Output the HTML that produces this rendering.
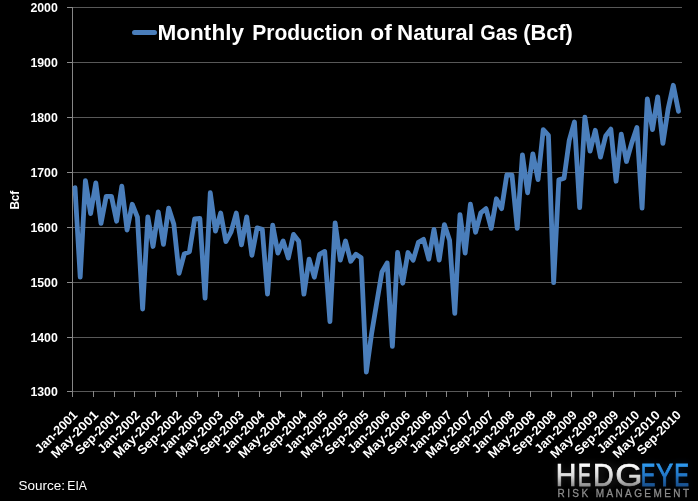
<!DOCTYPE html>
<html><head><meta charset="utf-8"><title>Monthly Production of Natural Gas (Bcf)</title>
<style>
html,body{margin:0;padding:0;background:#000;}
svg{display:block;}
text{font-family:"Liberation Sans",sans-serif;}
.b{font-weight:bold;}
</style></head><body>
<svg width="698" height="501" viewBox="0 0 698 501">
<defs>
<linearGradient id="gw" gradientUnits="userSpaceOnUse" x1="0" y1="-22" x2="0" y2="0"><stop offset="0" stop-color="#ffffff"/><stop offset="0.55" stop-color="#d8d8d8"/><stop offset="1" stop-color="#8a8a8a"/></linearGradient>
<linearGradient id="gb" gradientUnits="userSpaceOnUse" x1="0" y1="-22" x2="0" y2="0"><stop offset="0" stop-color="#2f9af0"/><stop offset="0.5" stop-color="#2277c8"/><stop offset="1" stop-color="#184f8c"/></linearGradient>
<filter id="glow" x="-20%" y="-50%" width="140%" height="200%"><feGaussianBlur stdDeviation="3.5"/></filter>
</defs>
<rect width="698" height="501" fill="#000"/>

<line x1="72" y1="7.5" x2="682" y2="7.5" stroke="#585858" stroke-width="1"/>
<line x1="67" y1="7.5" x2="73" y2="7.5" stroke="#8c8c8c" stroke-width="1"/>
<text class="b" x="57.8" y="11.8" font-size="12.2" text-anchor="end" fill="#fff" textLength="27.4" lengthAdjust="spacingAndGlyphs">2000</text>
<line x1="72" y1="62.5" x2="682" y2="62.5" stroke="#585858" stroke-width="1"/>
<line x1="67" y1="62.5" x2="73" y2="62.5" stroke="#8c8c8c" stroke-width="1"/>
<text class="b" x="57.8" y="66.8" font-size="12.2" text-anchor="end" fill="#fff" textLength="27.4" lengthAdjust="spacingAndGlyphs">1900</text>
<line x1="72" y1="117.5" x2="682" y2="117.5" stroke="#585858" stroke-width="1"/>
<line x1="67" y1="117.5" x2="73" y2="117.5" stroke="#8c8c8c" stroke-width="1"/>
<text class="b" x="57.8" y="121.8" font-size="12.2" text-anchor="end" fill="#fff" textLength="27.4" lengthAdjust="spacingAndGlyphs">1800</text>
<line x1="72" y1="172.5" x2="682" y2="172.5" stroke="#585858" stroke-width="1"/>
<line x1="67" y1="172.5" x2="73" y2="172.5" stroke="#8c8c8c" stroke-width="1"/>
<text class="b" x="57.8" y="176.8" font-size="12.2" text-anchor="end" fill="#fff" textLength="27.4" lengthAdjust="spacingAndGlyphs">1700</text>
<line x1="72" y1="227.5" x2="682" y2="227.5" stroke="#585858" stroke-width="1"/>
<line x1="67" y1="227.5" x2="73" y2="227.5" stroke="#8c8c8c" stroke-width="1"/>
<text class="b" x="57.8" y="231.8" font-size="12.2" text-anchor="end" fill="#fff" textLength="27.4" lengthAdjust="spacingAndGlyphs">1600</text>
<line x1="72" y1="282.5" x2="682" y2="282.5" stroke="#585858" stroke-width="1"/>
<line x1="67" y1="282.5" x2="73" y2="282.5" stroke="#8c8c8c" stroke-width="1"/>
<text class="b" x="57.8" y="286.8" font-size="12.2" text-anchor="end" fill="#fff" textLength="27.4" lengthAdjust="spacingAndGlyphs">1500</text>
<line x1="72" y1="337.5" x2="682" y2="337.5" stroke="#585858" stroke-width="1"/>
<line x1="67" y1="337.5" x2="73" y2="337.5" stroke="#8c8c8c" stroke-width="1"/>
<text class="b" x="57.8" y="341.8" font-size="12.2" text-anchor="end" fill="#fff" textLength="27.4" lengthAdjust="spacingAndGlyphs">1400</text>
<line x1="72" y1="391.5" x2="682" y2="391.5" stroke="#585858" stroke-width="1"/>
<line x1="67" y1="391.5" x2="73" y2="391.5" stroke="#8c8c8c" stroke-width="1"/>
<text class="b" x="57.8" y="395.8" font-size="12.2" text-anchor="end" fill="#fff" textLength="27.4" lengthAdjust="spacingAndGlyphs">1300</text>
<line x1="72.5" y1="7" x2="72.5" y2="397" stroke="#868686" stroke-width="1"/>
<line x1="72.5" y1="391" x2="72.5" y2="397" stroke="#868686" stroke-width="1"/>
<text class="b" transform="translate(78.3,415.75) rotate(-45)" font-size="12.6" text-anchor="end" fill="#fff" textLength="54" lengthAdjust="spacingAndGlyphs">Jan-2001</text>
<line x1="93.5" y1="391" x2="93.5" y2="397" stroke="#868686" stroke-width="1"/>
<text class="b" transform="translate(99.1,415.75) rotate(-45)" font-size="12.6" text-anchor="end" fill="#fff" textLength="61" lengthAdjust="spacingAndGlyphs">May-2001</text>
<line x1="114.5" y1="391" x2="114.5" y2="397" stroke="#868686" stroke-width="1"/>
<text class="b" transform="translate(119.9,415.75) rotate(-45)" font-size="12.6" text-anchor="end" fill="#fff" textLength="56.2" lengthAdjust="spacingAndGlyphs">Sep-2001</text>
<line x1="134.5" y1="391" x2="134.5" y2="397" stroke="#868686" stroke-width="1"/>
<text class="b" transform="translate(140.7,415.75) rotate(-45)" font-size="12.6" text-anchor="end" fill="#fff" textLength="54" lengthAdjust="spacingAndGlyphs">Jan-2002</text>
<line x1="155.5" y1="391" x2="155.5" y2="397" stroke="#868686" stroke-width="1"/>
<text class="b" transform="translate(161.5,415.75) rotate(-45)" font-size="12.6" text-anchor="end" fill="#fff" textLength="61" lengthAdjust="spacingAndGlyphs">May-2002</text>
<line x1="176.5" y1="391" x2="176.5" y2="397" stroke="#868686" stroke-width="1"/>
<text class="b" transform="translate(182.3,415.75) rotate(-45)" font-size="12.6" text-anchor="end" fill="#fff" textLength="56.2" lengthAdjust="spacingAndGlyphs">Sep-2002</text>
<line x1="197.5" y1="391" x2="197.5" y2="397" stroke="#868686" stroke-width="1"/>
<text class="b" transform="translate(203.1,415.75) rotate(-45)" font-size="12.6" text-anchor="end" fill="#fff" textLength="54" lengthAdjust="spacingAndGlyphs">Jan-2003</text>
<line x1="218.5" y1="391" x2="218.5" y2="397" stroke="#868686" stroke-width="1"/>
<text class="b" transform="translate(223.9,415.75) rotate(-45)" font-size="12.6" text-anchor="end" fill="#fff" textLength="61" lengthAdjust="spacingAndGlyphs">May-2003</text>
<line x1="238.5" y1="391" x2="238.5" y2="397" stroke="#868686" stroke-width="1"/>
<text class="b" transform="translate(244.7,415.75) rotate(-45)" font-size="12.6" text-anchor="end" fill="#fff" textLength="56.2" lengthAdjust="spacingAndGlyphs">Sep-2003</text>
<line x1="259.5" y1="391" x2="259.5" y2="397" stroke="#868686" stroke-width="1"/>
<text class="b" transform="translate(265.5,415.75) rotate(-45)" font-size="12.6" text-anchor="end" fill="#fff" textLength="54" lengthAdjust="spacingAndGlyphs">Jan-2004</text>
<line x1="280.5" y1="391" x2="280.5" y2="397" stroke="#868686" stroke-width="1"/>
<text class="b" transform="translate(286.4,415.75) rotate(-45)" font-size="12.6" text-anchor="end" fill="#fff" textLength="61" lengthAdjust="spacingAndGlyphs">May-2004</text>
<line x1="301.5" y1="391" x2="301.5" y2="397" stroke="#868686" stroke-width="1"/>
<text class="b" transform="translate(307.2,415.75) rotate(-45)" font-size="12.6" text-anchor="end" fill="#fff" textLength="56.2" lengthAdjust="spacingAndGlyphs">Sep-2004</text>
<line x1="322.5" y1="391" x2="322.5" y2="397" stroke="#868686" stroke-width="1"/>
<text class="b" transform="translate(328.0,415.75) rotate(-45)" font-size="12.6" text-anchor="end" fill="#fff" textLength="54" lengthAdjust="spacingAndGlyphs">Jan-2005</text>
<line x1="342.5" y1="391" x2="342.5" y2="397" stroke="#868686" stroke-width="1"/>
<text class="b" transform="translate(348.8,415.75) rotate(-45)" font-size="12.6" text-anchor="end" fill="#fff" textLength="61" lengthAdjust="spacingAndGlyphs">May-2005</text>
<line x1="363.5" y1="391" x2="363.5" y2="397" stroke="#868686" stroke-width="1"/>
<text class="b" transform="translate(369.6,415.75) rotate(-45)" font-size="12.6" text-anchor="end" fill="#fff" textLength="56.2" lengthAdjust="spacingAndGlyphs">Sep-2005</text>
<line x1="384.5" y1="391" x2="384.5" y2="397" stroke="#868686" stroke-width="1"/>
<text class="b" transform="translate(390.4,415.75) rotate(-45)" font-size="12.6" text-anchor="end" fill="#fff" textLength="54" lengthAdjust="spacingAndGlyphs">Jan-2006</text>
<line x1="405.5" y1="391" x2="405.5" y2="397" stroke="#868686" stroke-width="1"/>
<text class="b" transform="translate(411.2,415.75) rotate(-45)" font-size="12.6" text-anchor="end" fill="#fff" textLength="61" lengthAdjust="spacingAndGlyphs">May-2006</text>
<line x1="426.5" y1="391" x2="426.5" y2="397" stroke="#868686" stroke-width="1"/>
<text class="b" transform="translate(432.0,415.75) rotate(-45)" font-size="12.6" text-anchor="end" fill="#fff" textLength="56.2" lengthAdjust="spacingAndGlyphs">Sep-2006</text>
<line x1="446.5" y1="391" x2="446.5" y2="397" stroke="#868686" stroke-width="1"/>
<text class="b" transform="translate(452.8,415.75) rotate(-45)" font-size="12.6" text-anchor="end" fill="#fff" textLength="54" lengthAdjust="spacingAndGlyphs">Jan-2007</text>
<line x1="467.5" y1="391" x2="467.5" y2="397" stroke="#868686" stroke-width="1"/>
<text class="b" transform="translate(473.6,415.75) rotate(-45)" font-size="12.6" text-anchor="end" fill="#fff" textLength="61" lengthAdjust="spacingAndGlyphs">May-2007</text>
<line x1="488.5" y1="391" x2="488.5" y2="397" stroke="#868686" stroke-width="1"/>
<text class="b" transform="translate(494.5,415.75) rotate(-45)" font-size="12.6" text-anchor="end" fill="#fff" textLength="56.2" lengthAdjust="spacingAndGlyphs">Sep-2007</text>
<line x1="509.5" y1="391" x2="509.5" y2="397" stroke="#868686" stroke-width="1"/>
<text class="b" transform="translate(515.3,415.75) rotate(-45)" font-size="12.6" text-anchor="end" fill="#fff" textLength="54" lengthAdjust="spacingAndGlyphs">Jan-2008</text>
<line x1="530.5" y1="391" x2="530.5" y2="397" stroke="#868686" stroke-width="1"/>
<text class="b" transform="translate(536.1,415.75) rotate(-45)" font-size="12.6" text-anchor="end" fill="#fff" textLength="61" lengthAdjust="spacingAndGlyphs">May-2008</text>
<line x1="551.5" y1="391" x2="551.5" y2="397" stroke="#868686" stroke-width="1"/>
<text class="b" transform="translate(556.9,415.75) rotate(-45)" font-size="12.6" text-anchor="end" fill="#fff" textLength="56.2" lengthAdjust="spacingAndGlyphs">Sep-2008</text>
<line x1="571.5" y1="391" x2="571.5" y2="397" stroke="#868686" stroke-width="1"/>
<text class="b" transform="translate(577.7,415.75) rotate(-45)" font-size="12.6" text-anchor="end" fill="#fff" textLength="54" lengthAdjust="spacingAndGlyphs">Jan-2009</text>
<line x1="592.5" y1="391" x2="592.5" y2="397" stroke="#868686" stroke-width="1"/>
<text class="b" transform="translate(598.5,415.75) rotate(-45)" font-size="12.6" text-anchor="end" fill="#fff" textLength="61" lengthAdjust="spacingAndGlyphs">May-2009</text>
<line x1="613.5" y1="391" x2="613.5" y2="397" stroke="#868686" stroke-width="1"/>
<text class="b" transform="translate(619.3,415.75) rotate(-45)" font-size="12.6" text-anchor="end" fill="#fff" textLength="56.2" lengthAdjust="spacingAndGlyphs">Sep-2009</text>
<line x1="634.5" y1="391" x2="634.5" y2="397" stroke="#868686" stroke-width="1"/>
<text class="b" transform="translate(640.1,415.75) rotate(-45)" font-size="12.6" text-anchor="end" fill="#fff" textLength="54" lengthAdjust="spacingAndGlyphs">Jan-2010</text>
<line x1="655.5" y1="391" x2="655.5" y2="397" stroke="#868686" stroke-width="1"/>
<text class="b" transform="translate(660.9,415.75) rotate(-45)" font-size="12.6" text-anchor="end" fill="#fff" textLength="61" lengthAdjust="spacingAndGlyphs">May-2010</text>
<line x1="675.5" y1="391" x2="675.5" y2="397" stroke="#868686" stroke-width="1"/>
<text class="b" transform="translate(681.7,415.75) rotate(-45)" font-size="12.6" text-anchor="end" fill="#fff" textLength="56.2" lengthAdjust="spacingAndGlyphs">Sep-2010</text>
<polyline points="75.00,187.54 80.20,277.18 85.41,180.68 90.61,213.58 95.81,182.88 101.01,223.45 106.22,196.31 111.42,196.31 116.62,221.26 121.82,186.17 127.03,230.03 132.23,204.26 137.43,217.15 142.63,308.98 147.84,216.87 153.04,246.48 158.24,211.94 163.44,244.29 168.65,208.10 173.85,224.27 179.05,273.34 184.26,253.88 189.46,251.69 194.66,218.79 199.86,218.52 205.07,298.02 210.27,192.75 215.47,231.13 220.67,213.03 225.88,241.54 231.08,231.95 236.28,213.03 241.48,244.83 246.69,216.87 251.89,255.25 257.09,227.84 262.29,229.21 267.50,294.18 272.70,225.10 277.90,253.06 283.10,241.00 288.31,257.99 293.51,234.42 298.71,241.27 303.91,294.18 309.12,259.09 314.32,277.18 319.52,254.43 324.72,251.41 329.93,321.59 335.13,222.90 340.33,260.19 345.53,241.00 350.74,261.28 355.94,254.15 361.14,257.72 366.34,372.04 371.55,333.93 376.75,302.68 381.95,271.97 387.16,262.93 392.36,346.27 397.56,252.51 402.76,283.21 407.97,252.51 413.17,260.19 418.37,242.37 423.57,239.35 428.78,259.09 433.98,229.48 439.18,260.19 444.38,224.55 449.59,240.17 454.79,313.37 459.99,214.68 465.19,253.06 470.40,204.26 475.60,232.22 480.80,212.76 486.00,208.65 491.21,228.38 496.41,198.78 501.61,208.65 506.81,174.93 512.02,175.20 517.22,228.38 522.42,154.91 527.62,192.75 532.83,153.82 538.03,179.59 543.23,129.69 548.43,135.45 553.64,282.67 558.84,179.86 564.04,178.22 569.24,140.39 574.45,122.02 579.65,207.55 584.85,117.08 590.06,151.08 595.26,130.24 600.46,157.11 605.66,136.00 610.87,129.15 616.07,181.23 621.27,134.08 626.47,161.49 631.68,143.13 636.88,127.50 642.08,208.10 647.28,98.99 652.49,129.69 657.69,96.80 662.89,143.40 668.09,109.13 673.30,85.28 678.50,111.33" fill="none" stroke="#4a7ebb" stroke-width="4.8" stroke-linejoin="round" stroke-linecap="round"/>
<line x1="134.5" y1="32.5" x2="154.5" y2="32.5" stroke="#4a7ebb" stroke-width="5" stroke-linecap="round"/>
<text class="b" x="157.5" y="39.6" font-size="21.6" fill="#fff" textLength="86.5" lengthAdjust="spacingAndGlyphs">Monthly</text>
<text class="b" x="252.2" y="39.6" font-size="21.6" fill="#fff" textLength="111" lengthAdjust="spacingAndGlyphs">Production</text>
<text class="b" x="370.3" y="39.6" font-size="21.6" fill="#fff" textLength="21.5" lengthAdjust="spacingAndGlyphs">of</text>
<text class="b" x="397" y="39.6" font-size="21.6" fill="#fff" textLength="77" lengthAdjust="spacingAndGlyphs">Natural</text>
<text class="b" x="480.3" y="39.6" font-size="21.6" fill="#fff" textLength="37.5" lengthAdjust="spacingAndGlyphs">Gas</text>
<text class="b" x="523.3" y="39.6" font-size="21.6" fill="#fff" textLength="49.5" lengthAdjust="spacingAndGlyphs">(Bcf)</text>
<text class="b" transform="translate(18.5,209.6) rotate(-90)" font-size="12.8" fill="#fff" textLength="18.8" lengthAdjust="spacingAndGlyphs">Bcf</text>
<text x="18.6" y="489.7" font-size="12" fill="#fff" textLength="46.5" lengthAdjust="spacingAndGlyphs">Source:</text>
<text x="67.3" y="489.7" font-size="12" fill="#fff" textLength="19.6" lengthAdjust="spacingAndGlyphs">EIA</text>
<g filter="url(#glow)" opacity="0.24"><text x="556" y="486.4" font-size="31" fill="#9a9a9a" textLength="86" lengthAdjust="spacingAndGlyphs">HEDG</text><text x="641" y="486.4" font-size="31" fill="#1f6fd0" textLength="49" lengthAdjust="spacingAndGlyphs">EYE</text></g>
<text transform="translate(555.71,486.4) scale(0.922,1)" font-size="31" fill="url(#gw)" stroke="url(#gw)" stroke-width="0.7" vector-effect="non-scaling-stroke">H</text>
<text transform="translate(578.04,486.4) scale(0.628,1)" font-size="31" fill="url(#gw)" stroke="url(#gw)" stroke-width="0.7" vector-effect="non-scaling-stroke">E</text>
<text transform="translate(593.01,486.4) scale(0.925,1)" font-size="31" fill="url(#gw)" stroke="url(#gw)" stroke-width="0.7" vector-effect="non-scaling-stroke">D</text>
<text transform="translate(615.25,486.4) scale(1.132,1)" font-size="31" fill="url(#gw)" stroke="url(#gw)" stroke-width="0.7" vector-effect="non-scaling-stroke">G</text>
<text transform="translate(640.84,486.4) scale(0.710,1)" font-size="31" fill="url(#gb)" stroke="url(#gb)" stroke-width="0.7" vector-effect="non-scaling-stroke">E</text>
<text transform="translate(655.88,486.4) scale(0.832,1)" font-size="31" fill="url(#gb)" stroke="url(#gb)" stroke-width="0.7" vector-effect="non-scaling-stroke">Y</text>
<text transform="translate(674.13,486.4) scale(0.716,1)" font-size="31" fill="url(#gb)" stroke="url(#gb)" stroke-width="0.7" vector-effect="non-scaling-stroke">E</text>
<text x="557.5" y="496.6" font-size="10" fill="#8c8c8c" stroke="#8c8c8c" stroke-width="0.3" textLength="131.5" lengthAdjust="spacing">RISK MANAGEMENT</text>
</svg></body></html>
